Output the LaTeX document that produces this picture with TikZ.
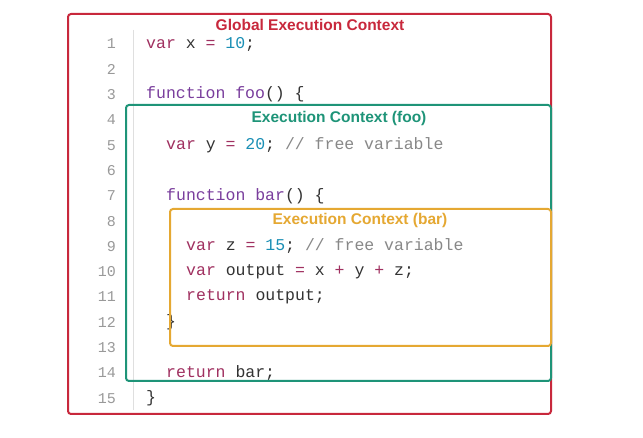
\documentclass[tikz,border=0pt]{standalone}
\usepackage{fontspec}
\setmainfont{Liberation Sans}
\newfontfamily\codefont{Liberation Mono}
\begin{document}
\begin{tikzpicture}[x=1pt,y=-1pt,
  ln/.style={anchor=east,text=gray!80,font=\codefont\fontsize{15}{15}\selectfont,inner sep=0},
  code/.style={anchor=west,font=\codefont\fontsize{16.5}{16.5}\selectfont,inner sep=0,text=black!80},
  title/.style={font=\bfseries\fontsize{15.5}{15.5}\selectfont,inner sep=0}]
\definecolor{kw}{HTML}{A03060}
\definecolor{num}{HTML}{1A8FB5}
\definecolor{fn}{HTML}{7A3E9D}
\definecolor{cm}{HTML}{888888}
\definecolor{redc}{HTML}{C8283C}
\definecolor{grnc}{HTML}{1E9478}
\definecolor{orgc}{HTML}{E5A832}
\useasboundingbox (0,0) rectangle (643,438);
\fill[white] (0,0) rectangle (643,438);
\draw[gray!25] (133,30) -- (133,410);
\foreach \i in {1,...,15} \node[ln] (n\i) at (116,{44+(\i-1)*25.3}) {\i};
\node[code] (c1) at (146,44) {\textcolor{kw}{var} x \textcolor{kw}{=} \textcolor{num}{10};};
\node[code] (c3) at (146,94.6) {\textcolor{fn}{function} \textcolor{fn}{foo}() \{};
\node[code] (c5) at (166,145.2) {\textcolor{kw}{var} y \textcolor{kw}{=} \textcolor{num}{20}; \textcolor{cm}{// free variable}};
\node[code] (c7) at (166,195.8) {\textcolor{fn}{function} \textcolor{fn}{bar}() \{};
\node[code] (c9) at (186,246.4) {\textcolor{kw}{var} z \textcolor{kw}{=} \textcolor{num}{15}; \textcolor{cm}{// free variable}};
\node[code] (c10) at (186,271.7) {\textcolor{kw}{var} output \textcolor{kw}{=} x \textcolor{kw}{+} y \textcolor{kw}{+} z;};
\node[code] (c11) at (186,297) {\textcolor{kw}{return} output;};
\node[code] (c12) at (166,322.3) {\}};
\node[code] (c14) at (166,372.9) {\textcolor{kw}{return} bar;};
\node[code] (c15) at (146,398.2) {\}};
\draw[redc,line width=2pt,rounded corners=3pt] (68,14) rectangle (551,414);
\node[title,text=redc] (t1) at (310,25) {Global Execution Context};
\draw[grnc,line width=2pt,rounded corners=3pt] (126,105) rectangle (551,381);
\node[title,text=grnc] (t2) at (339,118) {Execution Context (foo)};
\draw[orgc,line width=2pt,rounded corners=3pt] (170,209) rectangle (551,346);
\node[title,text=orgc] (t3) at (360,220) {Execution Context (bar)};
\end{tikzpicture}
\end{document}
